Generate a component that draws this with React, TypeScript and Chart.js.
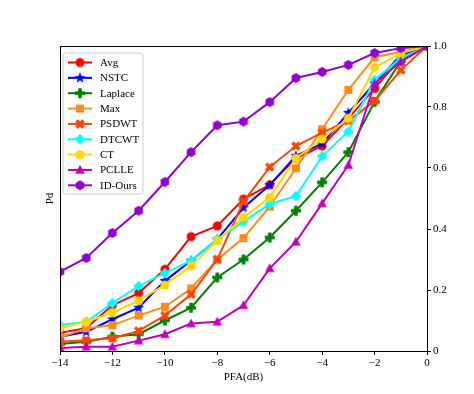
import React, { useEffect, useRef } from "react";
import { Chart, registerables } from "chart.js";

Chart.register(...registerables);

const pfa = [-14, -13, -12, -11, -10, -9, -8, -7, -6, -5, -4, -3, -2, -1, 0];
const avg = [0.06, 0.075, 0.15, 0.19, 0.268, 0.375, 0.41, 0.498, 0.545, 0.632, 0.672, 0.763, 0.861, 0.96, 1.0];
const nstc = [0.047, 0.063, 0.104, 0.142, 0.23, 0.296, 0.366, 0.47, 0.544, 0.64, 0.68, 0.781, 0.877, 0.97, 1.0];
const laplace = [0.023, 0.03, 0.047, 0.055, 0.1, 0.142, 0.241, 0.3, 0.372, 0.46, 0.553, 0.652, 0.817, 0.95, 1.0];
const maxv = [0.045, 0.074, 0.085, 0.116, 0.145, 0.205, 0.3, 0.37, 0.473, 0.599, 0.727, 0.856, 0.963, 0.98, 1.0];
const psdwt = [0.03, 0.035, 0.042, 0.066, 0.116, 0.186, 0.3, 0.49, 0.603, 0.672, 0.716, 0.754, 0.82, 0.921, 1.0];
const dtcwt = [0.085, 0.096, 0.157, 0.213, 0.255, 0.296, 0.366, 0.424, 0.482, 0.508, 0.639, 0.719, 0.889, 0.96, 1.0];
const ct = [0.075, 0.096, 0.126, 0.165, 0.216, 0.279, 0.362, 0.438, 0.504, 0.632, 0.695, 0.763, 0.93, 0.976, 1.0];
const pclle = [0.01, 0.014, 0.014, 0.034, 0.055, 0.09, 0.096, 0.15, 0.271, 0.358, 0.484, 0.61, 0.877, 0.949, 1.0];
const idOurs = [0.26, 0.305, 0.387, 0.46, 0.554, 0.652, 0.74, 0.752, 0.816, 0.895, 0.915, 0.938, 0.977, 0.993, 1.0];

const seriesNames = ["Avg", "NSTC", "Laplace", "Max", "PSDWT", "DTCWT", "CT", "PCLLE", "ID-Ours"];
const seriesValues = [avg, nstc, laplace, maxv, psdwt, dtcwt, ct, pclle, idOurs];
const seriesColors = ["#ff0000", "#0000ff", "#008000", "#ff8c1a", "#ff4500", "#00ffff", "#ffd700", "#bf00bf", "#9400d3"];
const seriesShapes = ["circle", "star", "plus", "square", "x", "diamond", "circle", "triangle", "hexagon"];

const xTicks = [-14, -12, -10, -8, -6, -4, -2, 0];
const yTickLabels = ["0", "0.2", "0.4", "0.6", "0.8", "1.0"];

const FONT = "'Liberation Serif', 'Times New Roman', serif";

function makeMarker(shape: string, color: string): HTMLCanvasElement {
  const size = 14;
  const c = document.createElement("canvas");
  c.width = size;
  c.height = size;
  const g = c.getContext("2d")!;
  g.fillStyle = color;
  const cx = size / 2;
  const cy = size / 2;
  g.beginPath();
  const poly = (pts: number[][]) => {
    pts.forEach((p, i) => (i === 0 ? g.moveTo(cx + p[0], cy + p[1]) : g.lineTo(cx + p[0], cy + p[1])));
    g.closePath();
  };
  const rot = (pts: number[][], a: number) =>
    pts.map(([x, y]) => [x * Math.cos(a) - y * Math.sin(a), x * Math.sin(a) + y * Math.cos(a)]);
  if (shape === "circle") {
    g.arc(cx, cy, 4.5, 0, Math.PI * 2);
  } else if (shape === "star") {
    const pts: number[][] = [];
    for (let i = 0; i < 10; i++) {
      const r = i % 2 === 0 ? 5.8 : 2.4;
      const a = -Math.PI / 2 + (i * Math.PI) / 5;
      pts.push([r * Math.cos(a), r * Math.sin(a)]);
    }
    poly(pts);
  } else if (shape === "plus" || shape === "x") {
    const h = 5, w = 1.8;
    let pts = [
      [-w, -h], [w, -h], [w, -w], [h, -w], [h, w], [w, w],
      [w, h], [-w, h], [-w, w], [-h, w], [-h, -w], [-w, -w],
    ];
    if (shape === "x") pts = rot(pts, Math.PI / 4);
    poly(pts);
  } else if (shape === "square") {
    g.rect(cx - 4, cy - 4, 8, 8);
  } else if (shape === "diamond") {
    poly([[0, -5.3], [5.3, 0], [0, 5.3], [-5.3, 0]]);
  } else if (shape === "triangle") {
    poly([[0, -5], [4.8, 3.8], [-4.8, 3.8]]);
  } else if (shape === "hexagon") {
    const pts: number[][] = [];
    for (let i = 0; i < 6; i++) {
      const a = -Math.PI / 2 + (i * Math.PI) / 3;
      pts.push([5 * Math.cos(a), 5 * Math.sin(a)]);
    }
    poly(pts);
  }
  g.fill();
  return c;
}

export default function App() {
  const ref = useRef<HTMLCanvasElement | null>(null);

  useEffect(() => {
    const canvas = ref.current;
    if (!canvas) return;
    const markers = seriesShapes.map((s, i) => makeMarker(s, seriesColors[i]));

    const datasets = seriesNames.map((name, i) => ({
      label: name,
      data: pfa.map((x, j) => ({ x, y: seriesValues[i][j] })),
      borderColor: seriesColors[i],
      backgroundColor: seriesColors[i],
      borderWidth: 2,
      pointStyle: markers[i] as any,
      pointRadius: 5,
      pointHoverRadius: 5,
      tension: 0,
      clip: 0,
      order: seriesNames.length - i,
      xAxisID: "x",
      yAxisID: "y",
    }));

    const framePlugin = {
      id: "frameAndLegend",
      afterDraw(chart: any) {
        const ctx = chart.ctx as CanvasRenderingContext2D;
        const a = chart.chartArea;
        ctx.save();
        // spines
        ctx.strokeStyle = "#000";
        ctx.lineWidth = 1;
        ctx.strokeRect(Math.round(a.left) + 0.5, Math.round(a.top) + 0.5, Math.round(a.right - a.left), Math.round(a.bottom - a.top));

        // axis titles
        ctx.fillStyle = "#000";
        ctx.font = `11px ${FONT}`;
        ctx.textAlign = "center";
        ctx.textBaseline = "middle";
        ctx.fillText("PFA(dB)", (a.left + a.right) / 2, 377);
        ctx.save();
        ctx.translate(50, (a.top + a.bottom) / 2);
        ctx.rotate(-Math.PI / 2);
        ctx.fillText("Pd", 0, 0);
        ctx.restore();

        // legend
        const bx = 63, by = 53, bw = 80, bh = 141;
        ctx.beginPath();
        const r = 3;
        ctx.moveTo(bx + r, by);
        ctx.lineTo(bx + bw - r, by);
        ctx.quadraticCurveTo(bx + bw, by, bx + bw, by + r);
        ctx.lineTo(bx + bw, by + bh - r);
        ctx.quadraticCurveTo(bx + bw, by + bh, bx + bw - r, by + bh);
        ctx.lineTo(bx + r, by + bh);
        ctx.quadraticCurveTo(bx, by + bh, bx, by + bh - r);
        ctx.lineTo(bx, by + r);
        ctx.quadraticCurveTo(bx, by, bx + r, by);
        ctx.closePath();
        ctx.fillStyle = "rgba(255,255,255,0.8)";
        ctx.fill();
        ctx.strokeStyle = "#cccccc";
        ctx.lineWidth = 1;
        ctx.stroke();

        seriesNames.forEach((name, i) => {
          const y = 62.5 + i * 15.35;
          ctx.strokeStyle = seriesColors[i];
          ctx.lineWidth = 2;
          ctx.beginPath();
          ctx.moveTo(68, y);
          ctx.lineTo(92, y);
          ctx.stroke();
          const m = markers[i];
          ctx.drawImage(m, 80 - m.width / 2, y - m.height / 2);
          ctx.fillStyle = "#000";
          ctx.font = `11px ${FONT}`;
          ctx.textAlign = "left";
          ctx.textBaseline = "middle";
          ctx.fillText(name, 100, y + 0.5);
        });
        ctx.restore();
      },
    };

    const chart = new Chart(canvas, {
      type: "line",
      data: { datasets: datasets as any },
      options: {
        animation: false,
        responsive: false,
        devicePixelRatio: 1,
        events: [],
        layout: { padding: { top: 46, left: 0, right: 0, bottom: 0 } },
        plugins: {
          legend: { display: false },
          tooltip: { enabled: false },
        },
        scales: {
          x: {
            type: "linear",
            position: "bottom",
            min: -14,
            max: 0,
            afterBuildTicks: (s: any) => {
              s.ticks = xTicks.map((v) => ({ value: v }));
            },
            afterFit: (s: any) => {
              s.height = 43;
            },
            ticks: {
              color: "#000",
              font: { family: FONT, size: 11 },
              padding: 2,
              maxRotation: 0,
              autoSkip: false,
              callback: (v: any) => (Number(v) < 0 ? "\u2212" + Math.abs(Number(v)) : String(v)),
            },
            grid: { drawOnChartArea: false, drawTicks: true, tickLength: 4, tickColor: "#000", color: "#000" },
            border: { display: false },
          },
          y: {
            type: "linear",
            position: "right",
            min: 0,
            max: 1,
            afterBuildTicks: (s: any) => {
              s.ticks = yTickLabels.map((_, i) => ({ value: i * 0.2 }));
            },
            afterFit: (s: any) => {
              s.width = 47;
            },
            ticks: {
              color: "#000",
              font: { family: FONT, size: 11 },
              padding: 2,
              autoSkip: false,
              callback: (_v: any, idx: number) => yTickLabels[idx],
            },
            grid: { drawOnChartArea: false, drawTicks: true, tickLength: 4, tickColor: "#000", color: "#000" },
            border: { display: false },
          },
          yL: {
            type: "linear",
            position: "left",
            min: 0,
            max: 1,
            afterFit: (s: any) => {
              s.width = 60;
            },
            ticks: { display: false },
            grid: { display: false },
            border: { display: false },
          },
        },
      } as any,
      plugins: [framePlugin],
    });

    return () => chart.destroy();
  }, []);

  return (
    <div style={{ position: "absolute", left: 0, top: 0, width: 474, height: 394, background: "#fff" }}>
      <canvas ref={ref} width={474} height={394} style={{ width: 474, height: 394, display: "block" }} />
    </div>
  );
}
